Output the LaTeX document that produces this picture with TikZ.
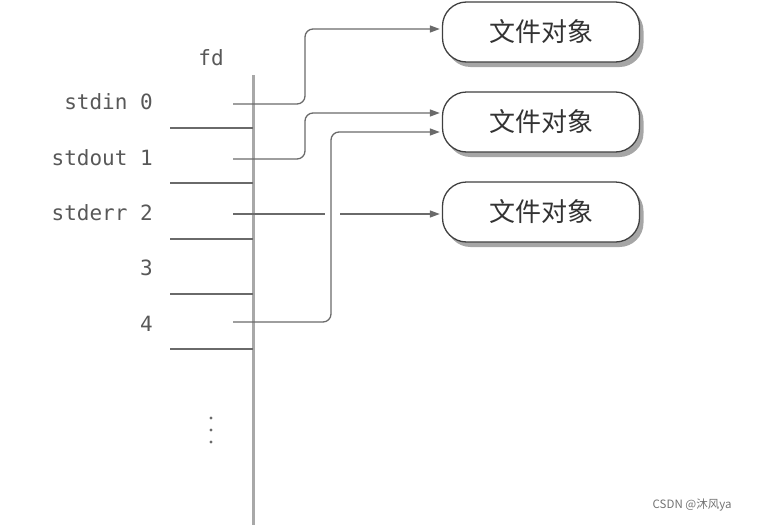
\documentclass[tikz,border=0pt]{standalone}
\usepackage{fontspec}
\setmonofont{DejaVu Sans Mono}
\newfontfamily\cjk{Noto Sans CJK SC}
\usetikzlibrary{shadows,arrows.meta}
\definecolor{lbl}{HTML}{585858}
\definecolor{ln}{HTML}{6A6A6A}
\definecolor{barc}{HTML}{A8A8A8}
\tikzset{
  fdlabel/.style={anchor=east,inner sep=0pt,text=lbl,font=\ttfamily\fontsize{21}{21}\selectfont},
  sep/.style={draw=ln,line width=2pt},
  conn/.style={draw=ln,line width=1.3pt,rounded corners=8pt},
  arr/.style={conn,-{Triangle[length=10pt,width=7pt]}},
  objbox/.style={draw=black!75,line width=1.3pt,fill=white,rounded corners=24pt,
    minimum width=197pt,minimum height=60pt,text=black!80,
    font=\cjk\fontsize{26}{26}\selectfont,
    drop shadow={shadow xshift=4pt,shadow yshift=-5pt,fill=black!50,opacity=0.7}}
}
\begin{document}
\begin{tikzpicture}[x=1pt,y=-1pt]
\useasboundingbox (0,0) rectangle (763,525);
% fd column
\draw[barc,line width=3pt] (253,75) -- (253,525);
\node[text=lbl,font=\ttfamily\fontsize{21}{21}\selectfont] (fd) at (211,58) {fd};
\node[fdlabel] (l0) at (153,102) {stdin 0};
\node[fdlabel] (l1) at (153,158) {stdout 1};
\node[fdlabel] (l2) at (153,213) {stderr 2};
\node[fdlabel] (l3) at (153,268) {3};
\node[fdlabel] (l4) at (153,324) {4};
\foreach \y in {128,183,239,294,349} \draw[sep] (170,\y) -- (253,\y);
\foreach \y in {418,430,442} \fill[ln] (211,\y) circle (1.6pt);
% boxes
\node[objbox] (b1) at (541,32) {文件对象};
\node[objbox] (b2) at (541,122) {文件对象};
\node[objbox] (b3) at (541,212) {文件对象};
% connectors
\coordinate (s0) at (233,104);
\coordinate (s1) at (233,159);
\coordinate (s2) at (233,214);
\coordinate (s4) at (233,322);
\coordinate (g1) at (325,214);
\coordinate (g2) at (340,214);
\draw[arr] (s0) -- (305,104) -- (305,29) -- ([yshift=3pt,xshift=-2pt]b1.west);
\draw[arr] (s1) -- (305,159) -- (305,113) -- ([yshift=9pt,xshift=-2pt]b2.west);
\draw[arr] (s4) -- (331,322) -- (331,132) -- ([yshift=-10pt,xshift=-2pt]b2.west);
\draw[conn] (s2) -- (g1);
\draw[arr] (g2) -- ([xshift=-2pt,yshift=-2pt]b3.west);
% watermark
\node[anchor=east,text=black!55,font=\fontspec{Noto Sans CJK SC}\fontsize{11.5}{11.5}\selectfont] (wm) at (735,505) {CSDN @沐风ya};
\end{tikzpicture}
\end{document}
